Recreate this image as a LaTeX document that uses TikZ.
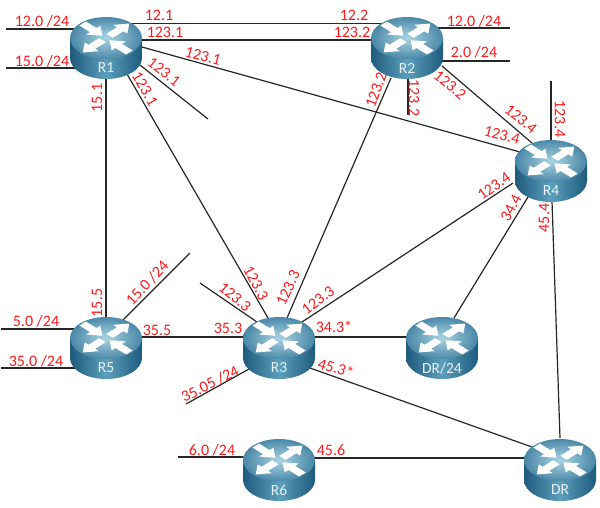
\documentclass[tikz,border=0pt]{standalone}
\usepackage{fontspec}
\setmainfont{Carlito}
\usetikzlibrary{backgrounds}
\definecolor{rtop}{HTML}{A9D3E3}
\definecolor{rtopo}{HTML}{3F7FA0}
\definecolor{rsdark}{HTML}{1E5A7C}
\definecolor{rsmid}{HTML}{5C9FBC}
\definecolor{labred}{HTML}{FF1A1A}
\definecolor{rtext}{HTML}{E8F2F6}
\tikzset{
  link/.style={draw=black!85,line width=1.2pt},
  ip/.style={text=labred,font=\fontsize{16}{17}\selectfont,inner sep=0pt,anchor=center},
  rbox/.style={inner sep=0pt,minimum width=72pt,minimum height=62pt},
  rname/.style={text=rtext,font=\fontsize{15.5}{16}\selectfont,inner sep=0pt},
  rarrow/.style={fill=white,draw=none}
}
% \router{node name}{centre x}{centre y}{label}
\newcommand{\router}[4]{%
  \begin{scope}[shift={(#2,#3)}]
    \path[left color=rsdark,right color=rsdark,middle color=rsmid]
      (-36,-10) -- (-36,10) arc[start angle=180,end angle=0,x radius=36,y radius=21] -- (36,-10) -- cycle;
    \begin{scope}
      \clip (0,-10) ellipse[x radius=36,y radius=21];
      \path[inner color=rtop,outer color=rtopo] (0,-10) ellipse[x radius=40,y radius=24];
    \end{scope}
    \begin{scope}[shift={(0,-10)},yscale=0.62]
      \foreach \a in {-135,45}{
        \fill[rarrow,rotate=\a] (5,-4.6) -- (20,-4.6) -- (20,-10) -- (33,0) -- (20,10) -- (20,4.6) -- (5,4.6) -- cycle;}
      \foreach \a in {-45,135}{
        \fill[rarrow,rotate=\a] (33,-4.6) -- (18,-4.6) -- (18,-10) -- (5,0) -- (18,10) -- (18,4.6) -- (33,4.6) -- cycle;}
    \end{scope}
  \end{scope}
  \node[rbox] (#1) at (#2,#3) {};
  \node[rname,yshift=-20pt] (#1l) at (#1.center) {#4};
}
\newcommand{\lab}[5]{\node[ip,rotate=#4] (#1) at (#2,#3) {#5};}
\begin{document}
\begin{tikzpicture}[x=1pt,y=-1pt]
\useasboundingbox (0,0) rectangle (600,507);
\router{R1}{106}{48}{R1}
\router{R2}{407}{48}{R2}
\router{R3}{279}{348}{R3}
\router{R4}{551}{171}{R4}
\router{R5}{106}{348}{R5}
\router{R6}{279}{470}{R6}
\router{DRa}{442}{348}{DR/24}
\router{DRb}{560}{470}{DR}
% free ends
\coordinate (f1) at (6,29);
\coordinate (f2) at (6,68);
\coordinate (f3) at (208,119);
\coordinate (f4) at (510,28);
\coordinate (f5) at (510,61);
\coordinate (f6) at (408,115);
\coordinate (f7) at (551,81);
\coordinate (f8) at (1,329);
\coordinate (f9) at (1,368);
\coordinate (f10) at (190,253);
\coordinate (f11) at (200,283);
\coordinate (f12) at (186,404);
\coordinate (f13) at (178,457);
\begin{scope}[on background layer]
\draw[link] (f1) -- ([shift={(-30,-19)}]R1.center);
\draw[link] (f2) -- ([shift={(-30,20)}]R1.center);
\draw[link] ([shift={(22,-24.5)}]R1.center) -- ([shift={(-23,-24.5)}]R2.center);
\draw[link] ([shift={(30,-8)}]R1.center) -- ([shift={(-30,-8)}]R2.center);
\draw[link] ([shift={(36,-1)}]R1.center) -- ([shift={(-31,-19)}]R4.center);
\draw[link] ([shift={(34,17)}]R1.center) -- (f3);
\draw[link] ([shift={(21,26)}]R1.center) -- ([shift={(-11,-30)}]R3.center);
\draw[link] ([shift={(0,25)}]R1.center) -- ([shift={(0,-25)}]R5.center);
\draw[link] ([shift={(30,-20)}]R2.center) -- (f4);
\draw[link] ([shift={(30,13)}]R2.center) -- (f5);
\draw[link] ([shift={(-16,30)}]R2.center) -- ([shift={(8,-30)}]R3.center);
\draw[link] ([shift={(1,25)}]R2.center) -- (f6);
\draw[link] ([shift={(35,18)}]R2.center) -- ([shift={(-19,-28)}]R4.center);
\draw[link] (f7) -- ([shift={(0,-25)}]R4.center);
\draw[link] ([shift={(-38,12)}]R4.center) -- ([shift={(23,-26)}]R3.center);
\draw[link] ([shift={(-23,26)}]R4.center) -- ([shift={(12,-30)}]DRa.center);
\draw[link] ([shift={(1,30)}]R4.center) -- ([shift={(0,-32)}]DRb.center);
\draw[link] (f8) -- ([shift={(-30,-19)}]R5.center);
\draw[link] (f9) -- ([shift={(-30,20)}]R5.center);
\draw[link] ([shift={(17,-28)}]R5.center) -- (f10);
\draw[link] ([shift={(30,-11)}]R5.center) -- ([shift={(-30,-11)}]R3.center);
\draw[link] ([shift={(-22,-26)}]R3.center) -- (f11);
\draw[link] ([shift={(-30,21)}]R3.center) -- (f12);
\draw[link] ([shift={(30,-11)}]R3.center) -- ([shift={(-30,-11)}]DRa.center);
\draw[link] ([shift={(31,20)}]R3.center) -- ([shift={(-28,-23)}]DRb.center);
\draw[link] (f13) -- ([shift={(-30,-13)}]R6.center);
\draw[link] ([shift={(30,-12)}]R6.center) -- ([shift={(-30,-12)}]DRb.center);
\end{scope}
% labels
\lab{a1}{42}{21}{0}{12.0 /24}
\lab{a2}{42}{61}{0}{15.0 /24}
\lab{a3}{159}{15}{0}{12.1}
\lab{a4}{165}{32}{0}{123.1}
\lab{a5}{203}{56}{-15}{123.1}
\lab{a6}{164}{72}{-38}{123.1}
\lab{a7}{145}{89}{-60}{123.1}
\lab{a8}{97}{98}{90}{15.1}
\lab{b1}{354}{15}{0}{12.2}
\lab{b2}{352}{32}{0}{123.2}
\lab{b3}{474}{21}{0}{12.0 /24}
\lab{b4}{474}{52}{0}{2.0 /24}
\lab{b5}{376}{90}{70}{123.2}
\lab{b6}{414}{98}{-90}{123.2}
\lab{b7}{450}{85}{-40}{123.2}
\lab{c1}{521}{119}{-40}{123.4}
\lab{c2}{502}{135}{-15}{123.4}
\lab{c3}{560}{119}{-90}{123.4}
\lab{c4}{494}{186}{35}{123.4}
\lab{c5}{511}{208}{62}{34.4}
\lab{c6}{544}{218}{90}{45.4}
\lab{d1}{97}{303}{90}{15.5}
\lab{d2}{147}{283}{47}{15.0 /24}
\lab{d3}{36}{321}{0}{5.0 /24}
\lab{d4}{36}{361}{0}{35.0 /24}
\lab{d5}{157}{330}{0}{35.5}
\lab{e1}{228}{328}{0}{35.3}
\lab{e2}{235}{297}{-40}{123.3}
\lab{e3}{256}{283}{-62}{123.3}
\lab{e4}{288}{288}{65}{123.3}
\lab{e5}{318}{300}{37}{123.3}
\lab{e6}{210}{384}{27}{35.05 /24}
\lab{e7}{334}{327}{0}{34.3*}
\lab{e8}{336}{368}{-17}{45.3*}
\lab{g1}{212}{450}{0}{6.0 /24}
\lab{g2}{331}{450}{0}{45.6}
\end{tikzpicture}
\end{document}
